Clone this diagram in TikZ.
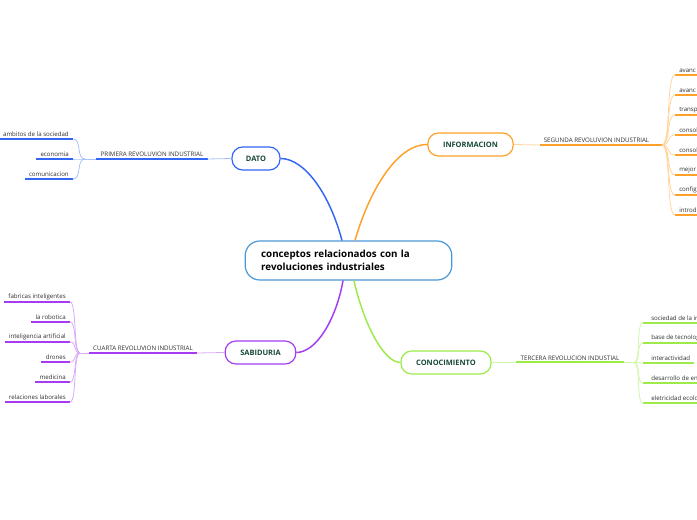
\documentclass[tikz,border=0pt]{standalone}
\usepackage{fontspec}
\setmainfont{Open Sans}
\usetikzlibrary{positioning}
\definecolor{rootblue}{HTML}{4A98D6}
\definecolor{dblue}{HTML}{3366F5}
\definecolor{dbluel}{HTML}{A9C1FA}
\definecolor{orng}{HTML}{FFA02A}
\definecolor{orngl}{HTML}{FFD59E}
\definecolor{purp}{HTML}{A53BF2}
\definecolor{purpl}{HTML}{DAAAFA}
\definecolor{grn}{HTML}{9CEB4A}
\definecolor{grnl}{HTML}{D2F6AC}
\definecolor{topictext}{HTML}{17483A}
\definecolor{labeltext}{HTML}{2E2E2E}
\tikzset{
  root/.style={draw=rootblue, line width=0.9pt, rounded corners=11pt, fill=white,
    text width=131pt, inner xsep=12pt, minimum height=29.25pt, align=left,
    font=\fontsize{7.35}{9.75}\selectfont\bfseries},
  topic/.style={draw, line width=0.9pt, rounded corners=8pt, fill=white, text=topictext,
    minimum height=17.25pt, inner xsep=0pt, font=\fontsize{5.6}{6}\selectfont\bfseries},
  lvl/.style={anchor=south, text=labeltext, inner xsep=3pt, inner ysep=1.5pt,
    font=\fontsize{4.65}{5}\selectfont},
  leafl/.style={anchor=south east, text=labeltext, inner xsep=3pt, inner ysep=1.5pt,
    font=\fontsize{4.6}{5}\selectfont},
  leafr/.style={leafl, anchor=south west},
  main/.style={line width=1.1pt},
  bar/.style={line width=1.5pt},
  twig/.style={line width=0.6pt}
}
\begin{document}
\begin{tikzpicture}[x=0.75pt,y=-0.75pt]
    \useasboundingbox (0,0) rectangle (697,520);
    \clip (0,0) rectangle (697,520);
    % centre and topics
    \node[root] (root) at (348.5,260.5) {conceptos relacionados con la\\revoluciones industriales};
    \node[topic, draw=dblue, minimum width=36pt] (dato) at (256,158.5) {DATO};
    \node[topic, draw=orng, minimum width=64pt] (info) at (470.5,144.5) {INFORMACION};
    \node[topic, draw=purp, minimum width=53pt] (sabi) at (260.5,352.5) {SABIDURIA};
    \node[topic, draw=grn, minimum width=67.5pt] (cono) at (446,362.5) {CONOCIMIENTO};

    \draw[main, dblue] ([xshift=-4.9pt]root.north) .. controls (330,195) and (305,158.5) .. (dato.east);
    \draw[main, orng] ([xshift=4.9pt]root.north) .. controls (368,195) and (395,144.5) .. (info.west);
    \draw[main, purp] ([xshift=-4.1pt]root.south) .. controls (336,320) and (316,352.5) .. (sabi.east);
    \draw[main, grn] ([xshift=4.1pt]root.south) .. controls (364,325) and (384,362.5) .. (cono.west);

    % revolutions
    \node[lvl] (rev1) at (152,159) {PRIMERA REVOLUVION INDUSTRIAL};
    \node[lvl] (rev2) at (596.5,145) {SEGUNDA REVOLUVION INDUSTRIAL};
    \node[lvl] (rev3) at (570,362.5) {TERCERA REVOLUCION INDUSTIAL};
    \node[lvl] (rev4) at (143,353) {CUARTA REVOLUVION INDUSTRIAL};
    \coordinate (b1) at (85,159);
    \coordinate (b2) at (662,145);
    \coordinate (b3) at (634,362.5);
    \coordinate (b4) at (80,353);

    \draw[bar, dblue] (rev1.south west) -- (rev1.south east);
    \draw[twig, dbluel] (rev1.south east) -- (dato.west);
    \draw[twig, dbluel] (b1) -- (rev1.south west);
    \draw[bar, orng] (rev2.south west) -- (rev2.south east) -- (b2);
    \draw[twig, orngl] (info.east) -- (rev2.south west);
    \draw[bar, grn] (rev3.south west) -- (rev3.south east);
    \draw[twig, grnl] (cono.east) -- (rev3.south west);
    \draw[twig, grnl] (rev3.south east) -- (b3);
    \draw[bar, purp] (rev4.south west) -- (rev4.south east);
    \draw[twig, purpl] (rev4.south east) -- (sabi.west);
    \draw[twig, purpl] (b4) -- (rev4.south west);

    % leaves
    \foreach \t/\y [count=\i] in {ambitos de la sociedad/139, economia/159, comunicacion/179}{
      \node[leafl] (l1\i) at (73,\y) {\t};
      \draw[bar, dblue] (l1\i.south west) -- (l1\i.south east);
      \draw[twig, dbluel] (l1\i.south east) .. controls +(9,0) and +(-9,0) .. (b1);
    }
    \foreach \t/\y [count=\i] in {avanc/75, avanc/95, transp/115, consol/135,
        consol/155, mejor/175, config/195, introd/215}{
      \node[leafr] (l2\i) at (675,\y) {\t};
      \draw[bar, orng] (l2\i.south west) -- ++(30,0);
      \draw[twig, orngl] (b2) .. controls +(9,0) and +(-9,0) .. (l2\i.south west);
    }
    \foreach \t/\y/\l [count=\i] in {sociedad de la in/323/60, base de tecnolog/343/60,
        interactividad/363/51, desarrollo de en/383/60, eletricidad ecolo/403/60}{
      \node[leafr, inner xsep=6pt] (l3\i) at (643,\y) {\t};
      \draw[bar, grn] (l3\i.south west) -- ++(\l,0);
      \draw[twig, grnl] (b3) .. controls +(7,0) and +(-7,0) .. (l3\i.south west);
    }
    \foreach \t/\y [count=\i] in {fabricas inteligentes/302, la robotica/322,
        inteligencia artificial/342, drones/362, medicina/382, relaciones laborales/402}{
      \node[leafl] (l4\i) at (70,\y) {\t};
      \draw[bar, purp] (l4\i.south west) -- (l4\i.south east);
      \draw[twig, purpl] (l4\i.south east) .. controls +(7,0) and +(-7,0) .. (b4);
    }
\end{tikzpicture}
\end{document}
